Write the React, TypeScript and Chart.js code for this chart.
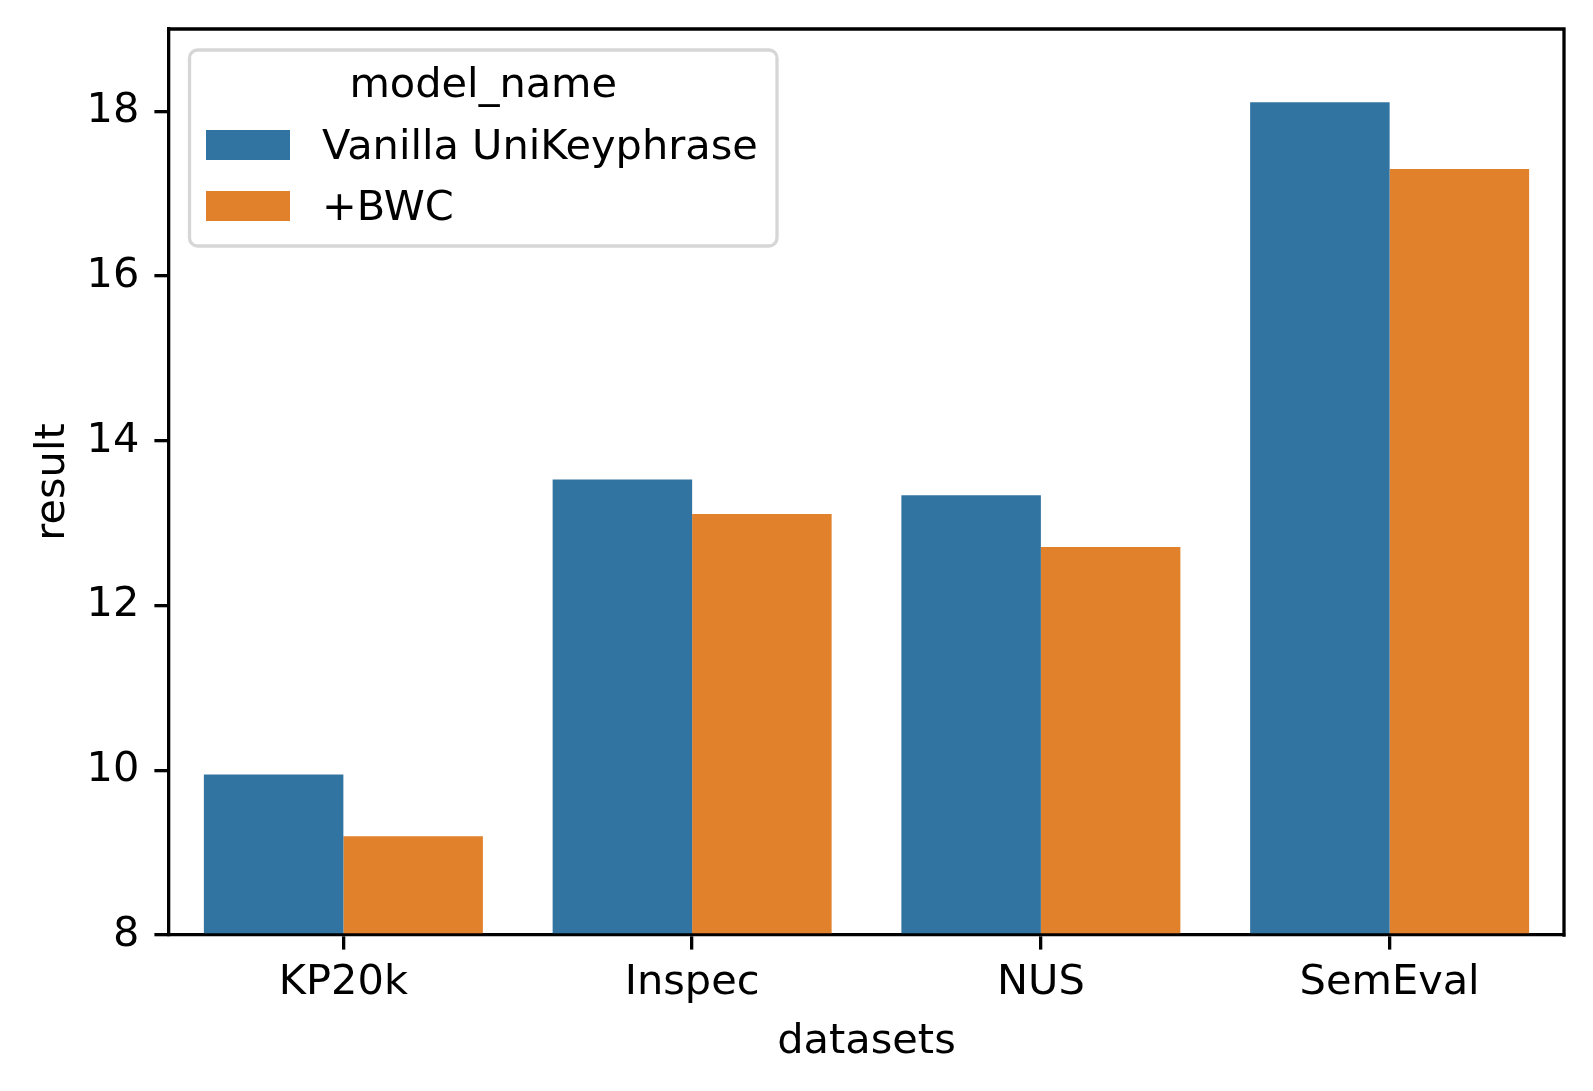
import React, { useEffect, useRef } from "react";
import { Chart, registerables } from "chart.js";

Chart.register(...registerables);

const categories = ["KP20k", "Inspec", "NUS", "SemEval"];
const seriesNames = ["Vanilla UniKeyphrase", "+BWC"];
const vanillaValues = [9.95, 13.53, 13.34, 18.11];
const bwcValues = [9.2, 13.11, 12.71, 17.3];
const seriesColors = ["#3274A1", "#E1812C"];
const yTicks = [8, 10, 12, 14, 16, 18];
const yMin = 8;
const yMax = 19;
const legendTitle = "model_name";
const xTitle = "datasets";
const yTitle = "result";

const W = 1593;
const H = 1091;
const FONT = '"DejaVu Sans", "Liberation Sans", sans-serif';
const FS = 41.5;
const LW = 3.3;

const spinePlugin = {
  id: "spines",
  afterDatasetsDraw(chart: any) {
    const { ctx, chartArea } = chart;
    ctx.save();
    ctx.strokeStyle = "#000";
    ctx.lineWidth = LW;
    ctx.lineCap = "square";
    ctx.beginPath();
    ctx.moveTo(chartArea.left, chartArea.top);
    ctx.lineTo(chartArea.right, chartArea.top);
    ctx.lineTo(chartArea.right, chartArea.bottom);
    ctx.stroke();
    ctx.restore();
  },
};

const legendPlugin = {
  id: "mplLegend",
  afterDraw(chart: any) {
    const { ctx } = chart;
    ctx.save();
    const x0 = 189.5;
    const y0 = 50;
    const w = 587.5;
    const h = 196;
    ctx.beginPath();
    ctx.roundRect(x0, y0, w, h, 8);
    ctx.fillStyle = "rgba(255,255,255,0.8)";
    ctx.fill();
    ctx.lineWidth = 3.3;
    ctx.strokeStyle = "rgba(204,204,204,0.8)";
    ctx.stroke();
    ctx.font = `${FS}px ${FONT}`;
    ctx.fillStyle = "#000";
    ctx.textBaseline = "alphabetic";
    ctx.textAlign = "center";
    ctx.fillText(legendTitle, x0 + w / 2, 97);
    ctx.textAlign = "left";
    chart.data.datasets.forEach((ds: any, i: number) => {
      ctx.fillStyle = ds.backgroundColor;
      ctx.fillRect(206, 130 + 61 * i, 84, 30);
      ctx.fillStyle = "#000";
      ctx.fillText(ds.label, 322, 159 + 61 * i);
    });
    ctx.restore();
  },
};

export default function App() {
  const canvasRef = useRef<HTMLCanvasElement | null>(null);

  useEffect(() => {
    const canvas = canvasRef.current;
    if (!canvas) return;
    const chart = new Chart(canvas, {
      type: "bar",
      data: {
        labels: categories,
        datasets: [
          {
            label: seriesNames[0],
            data: vanillaValues,
            backgroundColor: seriesColors[0],
            borderWidth: 0,
            base: yMin,
          },
          {
            label: seriesNames[1],
            data: bwcValues,
            backgroundColor: seriesColors[1],
            borderWidth: 0,
            base: yMin,
          },
        ],
      },
      options: {
        responsive: false,
        animation: false,
        devicePixelRatio: 1,
        layout: { padding: { top: 29, right: 29, left: 0, bottom: 0 } },
        datasets: {
          bar: { categoryPercentage: 0.8, barPercentage: 1.0 },
        },
        plugins: {
          legend: { display: false },
          tooltip: { enabled: false },
        },
        scales: {
          x: {
            type: "category",
            offset: true,
            grid: {
              display: true,
              offset: false,
              drawOnChartArea: false,
              drawTicks: true,
              tickLength: 14.6,
              tickWidth: LW,
              tickColor: "#000",
              color: "#000",
              lineWidth: LW,
            },
            border: { display: true, color: "#000", width: LW },
            ticks: {
              color: "#000",
              font: { family: FONT, size: FS },
              padding: 9,
              maxRotation: 0,
              autoSkip: false,
            },
            title: {
              display: true,
              text: xTitle,
              color: "#000",
              font: { family: FONT, size: FS },
              padding: { top: 0, bottom: 24 },
            },
            afterFit(scale: any) {
              scale.height = H - 935;
              scale.paddingLeft = 0;
              scale.paddingRight = 0;
            },
          },
          y: {
            type: "linear",
            min: yMin,
            max: yMax,
            grid: {
              display: true,
              drawOnChartArea: false,
              drawTicks: true,
              tickLength: 14.6,
              tickWidth: LW,
              tickColor: "#000",
              color: "#000",
              lineWidth: LW,
            },
            border: { display: true, color: "#000", width: LW },
            ticks: {
              color: "#000",
              font: { family: FONT, size: FS },
              padding: 15,
            },
            afterBuildTicks(scale: any) {
              scale.ticks = yTicks.map((v) => ({ value: v }));
            },
            title: {
              display: true,
              text: yTitle,
              color: "#000",
              font: { family: FONT, size: FS },
              padding: { top: 28, bottom: 0 },
            },
            afterFit(scale: any) {
              scale.width = 169;
              scale.paddingTop = 0;
              scale.paddingBottom = 0;
            },
          },
        },
      },
      plugins: [spinePlugin, legendPlugin],
    } as any);
    return () => chart.destroy();
  }, []);

  return (
    <div style={{ position: "absolute", left: 0, top: 0, width: W, height: H, background: "#fff" }}>
      <canvas ref={canvasRef} width={W} height={H} style={{ width: W, height: H, display: "block" }} />
    </div>
  );
}
